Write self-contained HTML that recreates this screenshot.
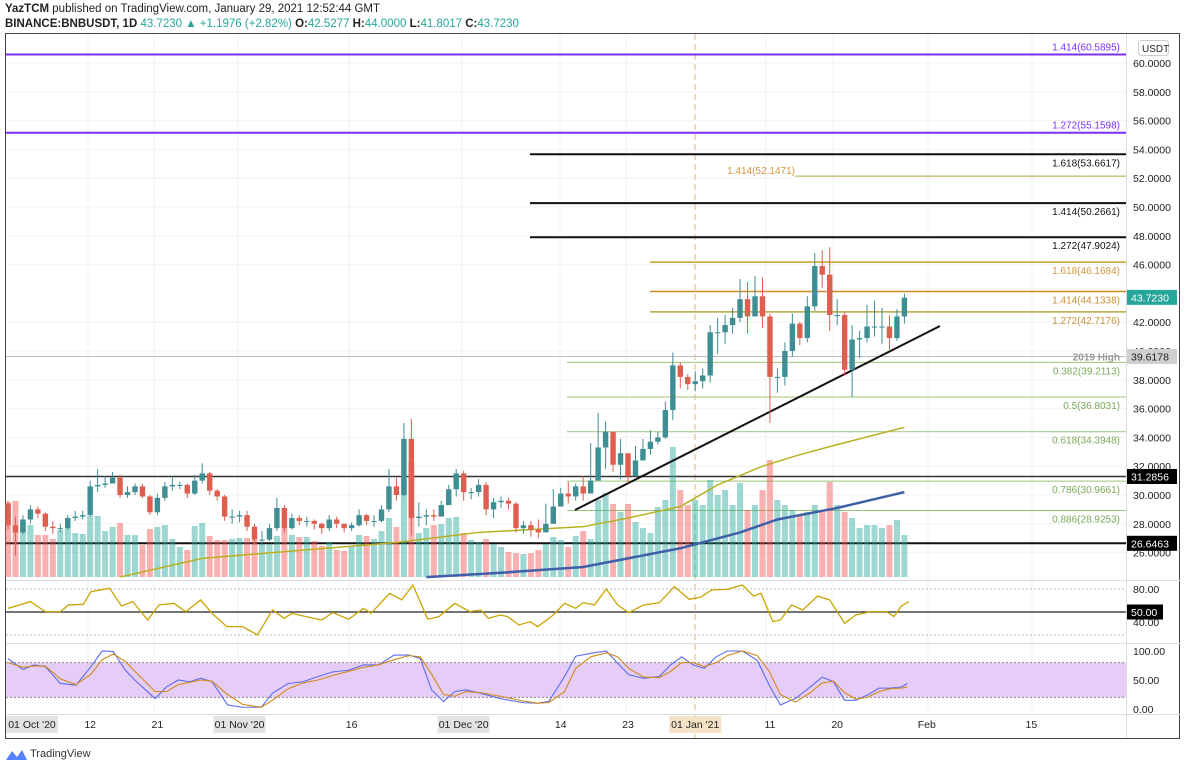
<!DOCTYPE html>
<html><head><meta charset="utf-8">
<style>
html,body{margin:0;padding:0;background:#fff;width:1185px;height:768px;overflow:hidden;font-family:"Liberation Sans",sans-serif;}
#hdr1{position:absolute;left:5px;top:3px;font-size:11.5px;color:#222;}
#hdr2{position:absolute;left:5px;top:18px;font-size:11.5px;color:#222;}
.t{color:#26a69a}
svg{position:absolute;left:0;top:0}
</style></head><body>
<div id="hdr1"><b>YazTCM</b> published on TradingView.com, January 29, 2021 12:52:44 GMT</div>
<div id="hdr2"><b>BINANCE:BNBUSDT, 1D</b> <span class="t">43.7230 ▲ +1.1976 (+2.82%)</span> <b>O:</b><span class="t">42.5277</span> <b>H:</b><span class="t">44.0000</span> <b>L:</b><span class="t">41.8017</span> <b>C:</b><span class="t">43.7230</span></div>
<svg id="chart" width="1185" height="768" font-family="Liberation Sans, sans-serif"></svg>
<script>
const closes=[27.9,27.4,28.3,29.0,28.7,27.8,27.7,27.7,28.4,28.5,28.6,
30.6,30.7,30.8,31.2,30.0,30.2,30.6,29.9,28.8,29.8,
30.6,30.7,30.7,30.1,31.0,31.5,30.3,29.9,28.5,28.5,
28.6,27.8,26.9,26.9,27.7,29.1,27.7,28.4,28.2,28.2,
28.0,27.7,28.3,28.0,27.7,27.9,28.6,28.2,28.2,29.0,
30.6,30.0,33.9,28.4,28.5,28.6,28.5,29.3,30.4,31.5,
30.2,30.2,30.7,29.0,29.5,29.6,29.4,27.7,27.9,27.6,
27.4,28.0,29.2,30.1,29.9,30.6,30.1,31.0,33.3,34.4,
32.1,32.9,31.3,32.4,33.2,33.7,34.0,35.9,39.0,38.2,
37.7,37.9,38.3,41.3,41.3,41.8,42.3,43.6,42.4,43.8,
42.4,38.2,38.2,40.0,41.9,40.9,43.1,45.9,45.3,42.5,
42.5,38.7,40.8,40.9,41.7,41.7,41.7,40.9,42.4,43.7];
const firstOpen=29.4;
const highs=[29.6,28.5,28.6,29.3,29.2,28.8,28.2,28.0,28.6,28.9,28.9,
31.0,31.8,31.3,31.6,31.4,30.6,30.8,30.8,30.0,30.1,
30.9,31.2,30.9,30.8,31.4,32.2,31.6,30.4,30.0,29.0,
28.9,28.9,28.0,27.5,28.0,29.8,29.3,28.7,28.6,28.5,
28.3,28.1,28.6,28.5,28.0,28.1,29.0,28.7,28.6,29.3,
31.8,31.2,35.0,35.3,29.5,29.0,29.0,29.6,30.7,31.8,
31.7,30.5,31.1,30.9,29.8,29.9,29.8,29.5,28.2,28.2,
28.3,29.4,30.4,30.5,30.9,30.8,31.3,33.6,35.7,35.1,
33.3,33.9,32.6,33.4,33.9,34.5,34.4,36.5,39.9,39.2,
38.4,38.6,38.8,41.8,42.3,42.5,43.0,45.0,44.8,45.2,
45.1,42.6,38.8,40.6,42.6,42.0,43.8,46.8,47.0,47.2,
43.6,42.7,41.8,41.4,43.2,43.5,43.0,42.5,42.9,44.0];
const lows=[27.6,25.8,27.3,28.0,28.4,27.5,27.3,27.4,27.6,28.2,28.3,
28.5,30.2,30.5,30.8,29.8,29.8,30.0,29.8,28.6,28.6,
29.6,30.3,30.4,29.8,30.0,30.8,30.0,29.6,28.2,28.0,
28.1,27.5,26.6,26.5,26.8,27.5,27.4,27.6,27.9,27.8,
27.6,27.3,27.5,27.7,27.4,27.5,27.8,27.9,27.8,28.1,
28.8,29.6,29.9,27.2,27.8,27.9,28.2,28.8,29.3,29.9,
29.6,29.7,29.9,28.6,28.4,29.1,29.0,27.4,27.3,27.1,
27.0,27.8,29.0,29.5,29.4,29.6,29.6,30.6,32.6,31.8,
31.6,31.1,30.8,31.8,32.6,32.8,33.5,33.9,35.2,37.4,
37.3,37.2,37.4,37.8,39.8,40.5,41.2,42.0,41.2,42.5,
41.6,35.0,37.1,37.6,39.6,40.4,40.6,42.8,44.4,41.4,
41.8,38.3,36.8,39.5,40.6,41.0,40.5,40.0,40.7,41.9];
const volumes=[75,76,55,52,42,42,38,47,50,44,43,
61,61,46,50,54,42,42,32,48,50,
52,38,30,27,51,54,41,37,37,38,
39,39,37,33,33,41,50,42,40,40,
36,31,35,27,26,31,42,41,38,46,
59,50,97,115,44,49,52,53,59,60,
44,37,35,38,33,30,25,24,23,24,
27,33,40,37,30,41,46,38,77,84,
73,65,73,55,49,44,70,77,130,87,
72,77,72,97,82,87,72,94,67,72,
87,117,77,72,67,62,65,72,67,95,
72,65,59,49,52,52,49,52,57,42];
const maADays=[15,26,52,63,77,83,90,95,101,106,111,120];
const maAVals=[24.3,25.6,26.7,27.4,27.8,28.4,29.2,30.7,32.0,32.8,33.5,34.7];
const maBDays=[56,66,77,90,98,103,111,120];
const maBVals=[24.3,24.6,25.0,26.3,27.4,28.3,29.1,30.2];
const rsiDays=[0,3,5,7,8.1,10.1,11.1,13.6,15.2,16.7,18.7,20.2,22.2,23.8,25.8,27.3,29.3,31.4,33.4,35.4,37,38,39.5,42,43.5,45.6,47.6,48.6,51.1,52.7,54.2,56.2,57.7,59.8,61.8,63.3,64.3,65.9,66.9,68.4,69.9,70.9,73,74.5,76,77,78.5,80.1,81.6,83.1,85.1,87.2,89.2,91.2,92.7,94.2,96.3,98.3,99.8,100.8,102.4,103.4,104.9,106.4,108.4,110,111,112,113.5,115.5,117.6,118.6,119.6,120.6];
const rsiVals=[54.8,63.5,50.5,50.5,59.2,60,76.6,80.9,57.9,63.5,39.6,59.2,61.3,50.5,65.7,48.3,30.9,30.9,20.1,52.6,41.8,48.3,44.8,39.6,49.2,40.5,54.8,48.3,74.4,65.7,85.2,40.5,44,61.3,50.5,52.6,41.8,46.1,44,33.1,37.4,30.9,46.1,61.3,54.8,62.2,59.2,80,59.2,49.2,59.2,62.2,83.1,66.6,69.2,78.7,79.6,85.2,70.9,74.4,37.4,39.6,59.2,52.6,70.9,65.7,50.5,35.3,46.1,50.5,50.5,44,57.9,63.5];
const stochDays=[0,2,3.5,5,7,9.1,11.1,12.6,14.1,15.7,17.2,19.7,21.2,22.8,24.3,25.8,27.3,29.4,31.4,33.9,35.4,37.5,39.5,41.5,43.5,45.6,47.6,49.6,51.7,53.7,55.2,56.7,58.3,59.8,61.3,63.3,65.9,68.9,70.9,72.4,74.5,76,78,80.1,81.6,83.1,85.1,87.2,88.7,90.2,91.7,93.2,94.8,96.3,98.3,100.3,101.9,103.4,105.4,107.4,109,110.5,112,113.5,115,116.6,118.1,119.6,120.4];
const stochK=[87,68,76,73,44,41,73,100,99,67,47,18,38,50,47,53,47,7,3,3,27,44,47,56,64,67,76,76,93,93,87,33,13,30,33,27,18,11,10,13,56,91,96,100,79,59,53,56,76,90,76,70,90,100,100,84,41,7,18,38,55,47,15,15,24,36,36,38,44];
const stochD=[80,72,74,74,52,42,60,85,95,82,62,30,30,42,46,50,48,25,8,3,15,35,45,50,58,65,72,76,85,92,90,60,25,22,30,28,22,14,10,11,30,70,90,97,90,70,55,54,65,80,80,73,80,92,100,92,65,25,12,28,45,48,28,17,20,30,35,36,38];
const priceTicks=[60,58,56,54,52,50,48,46,42,40,38,36,34,32,30,28,26];
const dateLabels=["12","21","16","14","23","11","20","Feb","15"];
const dateDays=[11,20,46,74,83,102,111,123,137];
const boxLabels=["01 Oct '20","01 Nov '20","01 Dec '20","01 Jan '21"];
const boxDays=[0,31,61,92];

const NS="http://www.w3.org/2000/svg";
const svg=document.getElementById('chart');
const xd=d=>8+7.47*d;
const py=p=>63+(60-p)*14.4;
const ry=v=>612-(v-50)*0.767;
const sy=v=>709-v*0.58;
const VB=577;
function mk(tag,attrs,name,parent){const e=document.createElementNS(NS,tag);for(const k in attrs)e.setAttribute(k,attrs[k]);


(parent||svg).appendChild(e);return e;}
function txt(x,y,s,attrs,name){const e=mk('text',Object.assign({x:x,y:y,'font-size':10.5,fill:'#222'},attrs),name);e.textContent=s;return e;}

// frame
mk('rect',{x:5.5,y:33.5,width:1174,height:705,fill:'none',stroke:'#444'},'chart-frame');
// grid
const gridX=[88,154,238,349,462,560,626,766,833,928,1032];
gridX.forEach(x=>mk('line',{x1:x,y1:34,x2:x,y2:714,stroke:'#f0f0f0'},'grid-v'));
priceTicks.forEach(p=>mk('line',{x1:6,y1:py(p),x2:1126,y2:py(p),stroke:'#f3f3f3'},'grid-h'));
mk('line',{x1:695,y1:34,x2:695,y2:738,stroke:'#e8cfa6','stroke-dasharray':'6,4','stroke-width':1.5},'year-divider');
mk('line',{x1:1126.5,y1:34,x2:1126.5,y2:738,stroke:'#ddd'},'price-axis-line');
mk('line',{x1:6,y1:580.5,x2:1180,y2:580.5,stroke:'#ddd'},'pane-separator');
mk('line',{x1:6,y1:643.5,x2:1180,y2:643.5,stroke:'#ddd'},'pane-separator');
mk('line',{x1:6,y1:714.5,x2:1180,y2:714.5,stroke:'#ddd'},'time-axis-line');

// fib / level lines
const levels=[
 [60.5895,6,'#7b2ff7',2,'1.414(60.5895)','#7b2ff7',-4],
 [55.1598,6,'#7b2ff7',2,'1.272(55.1598)','#7b2ff7',-4],
 [53.6617,530,'#111',2,'1.618(53.6617)','#111',12],
 [52.1471,795,'#b5a642',1,'',null,0],
 [50.2661,530,'#111',2,'1.414(50.2661)','#111',12],
 [47.9024,530,'#111',2,'1.272(47.9024)','#111',12],
 [46.1684,650,'#c8a12a',1.5,'1.618(46.1684)','#d4953a',12],
 [44.1338,650,'#d08a2a',1.5,'1.414(44.1338)','#c8903a',12],
 [42.7176,650,'#b5a642',1.5,'1.272(42.7176)','#c8903a',12],
 [39.6178,6,'#bbb',1,'2019 High','#999',4],
 [39.2113,567,'#9cc47a',1,'0.382(39.2113)','#7aa85a',12],
 [36.8031,567,'#9cc47a',1,'0.5(36.8031)','#7aa85a',12],
 [34.3948,567,'#9cc47a',1,'0.618(34.3948)','#7aa85a',12],
 [31.2856,6,'#333',1.5,'',null,0],
 [30.9661,567,'#9cc47a',1,'0.786(30.9661)','#7aa85a',12],
 [28.9253,567,'#9cc47a',1,'0.886(28.9253)','#7aa85a',12],
 [26.6463,6,'#111',2,'',null,0]];
levels.forEach(l=>{mk('line',{x1:l[1],y1:py(l[0]),x2:1126,y2:py(l[0]),stroke:l[2],'stroke-width':l[3]},'fib-level-line');
 if(l[4])txt(1120,py(l[0])+l[6],l[4],{'text-anchor':'end',fill:l[5],'font-size':10,'font-weight':l[4]=='2019 High'?'bold':'normal'},'fib-level-label');});
const l52=txt(795,py(52.1471)-2,'1.414(52.1471)',{'text-anchor':'end',fill:'#d4953a','font-size':10},'fib-level-label');

// volume
for(let i=0;i<closes.length;i++){const o=i?closes[i-1]:firstOpen;const up=closes[i]>=o;
 mk('rect',{x:xd(i)-3,y:VB-volumes[i],width:6,height:volumes[i],fill:up?'rgba(38,166,154,0.45)':'rgba(239,83,80,0.45)'},'volume-bar');}
// MAs
function poly(days,vals,f,stroke,w,name){mk('polyline',{points:days.map((d,i)=>xd(d)+','+f(vals[i])).join(' '),fill:'none',stroke:stroke,'stroke-width':w},name);}
poly(maADays,maAVals,py,'#b8b020',1.5,'ma-50-line');
poly(maBDays,maBVals,py,'#3f5fa8',2.5,'ma-200-line');
// trendline
mk('line',{x1:575,y1:510,x2:940,y2:326,stroke:'#111','stroke-width':2},'trendline');
// candles
for(let i=0;i<closes.length;i++){const o=i?closes[i-1]:firstOpen,c=closes[i];const up=c>=o;const col=up?'#3e8e94':'#de5f4f';const x=xd(i);
 mk('line',{x1:x,y1:py(highs[i]),x2:x,y2:py(lows[i]),stroke:col,'stroke-width':1},'candle-wick');
 const t=py(Math.max(o,c)),b=py(Math.min(o,c));
 mk('rect',{x:x-2.7,y:t,width:5.4,height:Math.max(1,b-t),fill:col},'candle-body');}

// price axis
priceTicks.forEach(p=>txt(1133,py(p)+4,p.toFixed(4),{},'price-tick-label'));
function box(y,s,bg,fg,name){mk('rect',{x:1127,y:y-7.5,width:50,height:15,fill:bg},name+'-bg');txt(1131,y+4,s,{fill:fg},name);}
box(py(43.723),'43.7230','#26a69a','#fff','last-price-label');
box(py(39.6178),'39.6178','#d0d0d0','#222','high-2019-label');
box(py(31.2856),'31.2856','#000','#fff','level-label');
box(py(26.6463),'26.6463','#000','#fff','level-label');
mk('rect',{x:1138.5,y:40.5,width:30,height:15,rx:3,fill:'#fff',stroke:'#ccc'},'currency-box');
txt(1142,52,'USDT',{'font-size':10},'currency-label');

// RSI pane
[80,20].forEach(v=>mk('line',{x1:6,y1:ry(v),x2:1126,y2:ry(v),stroke:'#bbb','stroke-dasharray':'2,2'},'rsi-band-line'));
mk('line',{x1:6,y1:ry(50),x2:1126,y2:ry(50),stroke:'#222','stroke-width':1.2},'rsi-mid-line');
poly(rsiDays,rsiVals,ry,'#c9a400',1.3,'rsi-line');
txt(1133,ry(80)+4,'80.00',{},'rsi-tick');
txt(1133,ry(37)+4,'40.00',{},'rsi-tick');
mk('rect',{x:1127,y:ry(50)-7.5,width:36,height:15,fill:'#000'},'rsi-value-bg');
txt(1131,ry(50)+4,'50.00',{fill:'#fff'},'rsi-value');

// Stoch pane
mk('rect',{x:6,y:sy(80),width:1120,height:sy(20)-sy(80),fill:'#e6cdf7'},'stoch-band');
[80,20].forEach(v=>mk('line',{x1:6,y1:sy(v),x2:1126,y2:sy(v),stroke:'#888','stroke-dasharray':'2,2'},'stoch-band-line'));
poly(stochDays,stochK,sy,'#5b6cf0',1.1,'stoch-k-line');
poly(stochDays,stochD,sy,'#d08a1a',1.1,'stoch-d-line');
txt(1133,sy(100)+4,'100.00',{},'stoch-tick');
txt(1133,sy(50)+4,'50.00',{},'stoch-tick');
txt(1133,sy(0)+4,'0.00',{},'stoch-tick');

// time axis
dateLabels.forEach((s,i)=>txt(xd(dateDays[i]),728,s,{'text-anchor':'middle'},'date-label'));
boxLabels.forEach((s,i)=>{const x=Math.max(32,xd(boxDays[i]));mk('rect',{x:x-26,y:716,width:52,height:17,fill:i==3?'#f3e2c6':'#e3e3e3'},'date-box');txt(x,728,s,{'text-anchor':'middle'},'date-box-label');});

// logo
mk('path',{d:'M6 760 L12 751 L17 757 L22 750 L27 760 Z',fill:'#2962ff',opacity:0.8},'tradingview-logo');
txt(30,757,'TradingView',{'font-size':11,fill:'#333'},'tradingview-brand');
</script>
</body></html>
